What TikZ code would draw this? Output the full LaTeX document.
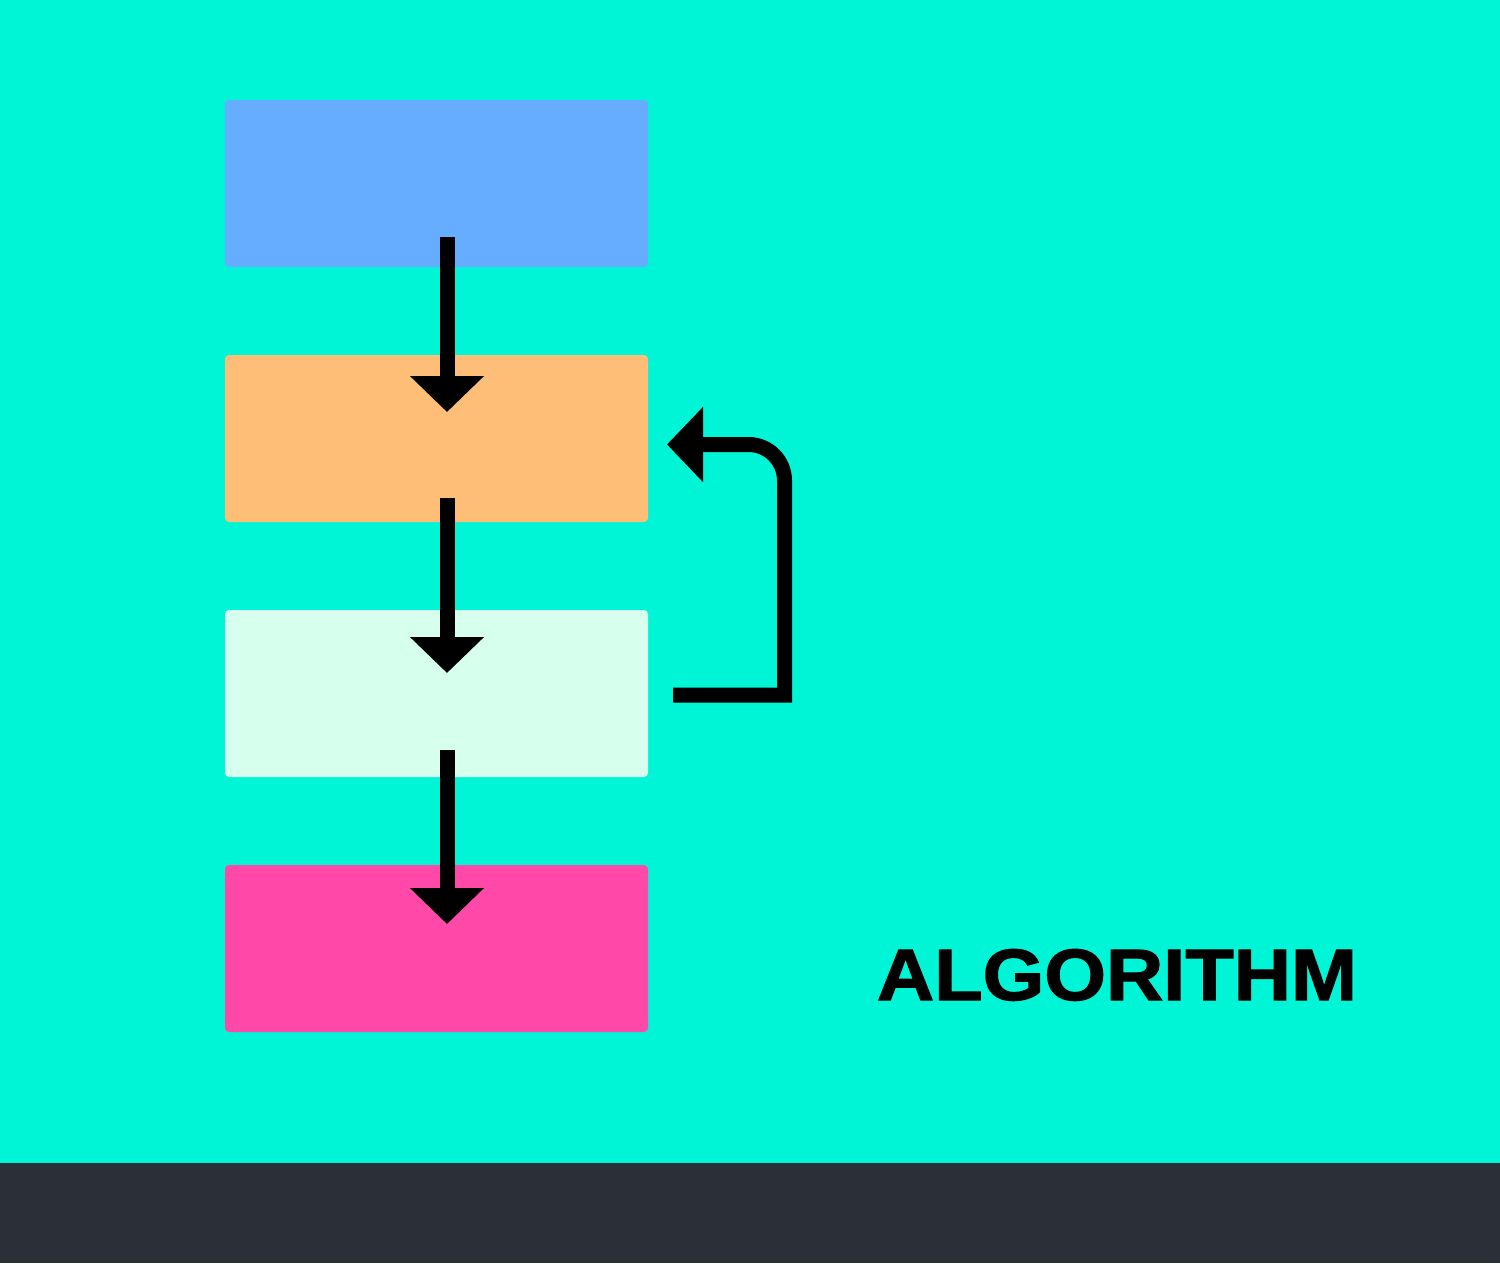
\documentclass[tikz,border=0pt]{standalone}
\usepackage{fontspec}
\setmainfont{Liberation Sans}
\newfontfamily\heavyfont[FakeBold=1.6]{Liberation Sans Bold}
\usetikzlibrary{positioning,arrows.meta}
\definecolor{myteal}{RGB}{0,245,215}
\definecolor{myblue}{RGB}{102,172,255}
\definecolor{myorange}{RGB}{255,190,120}
\definecolor{mymint}{RGB}{214,255,238}
\definecolor{mypink}{RGB}{255,72,168}
\definecolor{mybar}{RGB}{42,47,56}

\begin{document}
\begin{tikzpicture}[stepbox/.style={minimum width=4.23cm,minimum height=1.67cm,
  inner sep=0pt,outer sep=0pt,rounded corners=0.04cm},
  flow/.style={line width=0.15cm,-{Triangle[width=0.72cm,length=0.36cm]}},
  back/.style={line width=0.15cm,-{Triangle[width=0.73cm,length=0.36cm]}}]

  \useasboundingbox (0,0) rectangle (15,12.63);
  \fill[myteal] (0,0) rectangle (15,12.63);
  \fill[mybar] (0,0) rectangle (15,1.0);

  \node[stepbox,fill=myblue] (start) at (4.365,10.795) {};
  \node[stepbox,fill=myorange,below=0.88cm of start] (process) {};
  \node[stepbox,fill=mymint,below=0.88cm of process] (check) {};
  \node[stepbox,fill=mypink,below=0.88cm of check] (result) {};

  % downward steps
  \draw[flow] ([xshift=0.105cm,yshift=0.30cm]start.south) -- ([xshift=0.105cm,yshift=-0.57cm]process.north);
  \draw[flow] ([xshift=0.105cm,yshift=0.24cm]process.south) -- ([xshift=0.105cm,yshift=-0.63cm]check.north);
  \draw[flow] ([xshift=0.105cm,yshift=0.27cm]check.south) -- ([xshift=0.105cm,yshift=-0.59cm]result.north);

  % loop back
  \draw[back] ([xshift=0.25cm,yshift=-0.015cm]check.east) -- ++(1.115,0)
    [rounded corners=0.36cm] |- ([xshift=0.19cm,yshift=-0.06cm]process.east);

  \node[anchor=base,inner sep=0pt,xscale=1.09,font=\heavyfont\fontsize{20.7}{24}\selectfont] (title) at (11.17,2.63) {ALGORITHM};

\end{tikzpicture}
\end{document}
